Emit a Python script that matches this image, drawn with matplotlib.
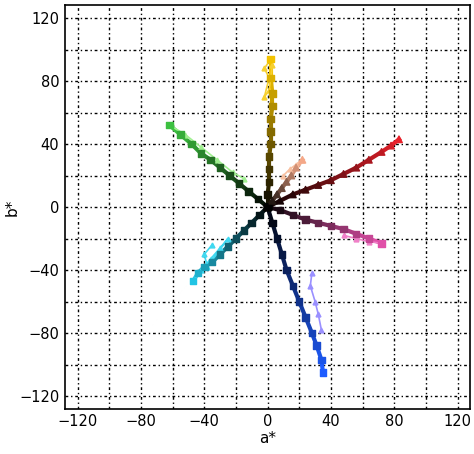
import matplotlib
matplotlib.use("Agg")
import matplotlib.pyplot as plt
import numpy as np
from matplotlib.colors import to_rgb

# main rays (dark near origin -> saturated at end)
yellow_a = [0, 0, 1, 1, 1, 2, 2, 2, 3, 3, 2, 2]
yellow_b = [0, 8, 16, 24, 32, 40, 48, 56, 64, 72, 82, 94]
red_a = [0, 8, 16, 24, 32, 40, 48, 56, 64, 72, 78, 83]
red_b = [0, 4, 8, 11, 14, 17, 21, 25, 30, 35, 39, 43]
peach_a = [0, 3, 6, 9, 12, 15, 18, 22]
peach_b = [0, 4, 8, 12, 16, 20, 25, 30]
pink_a = [0, 8, 16, 24, 32, 40, 48, 56, 64, 72]
pink_b = [0, -2, -5, -8, -10, -12, -14, -17, -20, -23]
blue_a = [0, 3, 6, 9, 12, 16, 20, 24, 28, 31, 34, 35]
blue_b = [0, -10, -20, -30, -40, -50, -60, -70, -80, -88, -97, -105]
cyan_a = [0, -5, -10, -15, -20, -25, -30, -35, -40, -44, -47]
cyan_b = [0, -5, -10, -15, -20, -25, -30, -35, -38, -42, -47]
green_a = [0, -6, -12, -18, -24, -30, -36, -42, -48, -55, -62]
green_b = [0, 5, 10, 15, 20, 25, 30, 34, 40, 46, 52]
# light return branches
yellow2_a = [2, -2, 1, -2, 1, 3]
yellow2_b = [94, 88, 82, 70, 74, 90]
pink2_a = [48, 56, 64, 72]
pink2_b = [-18, -20, -22, -23]
blue2_a = [28, 27, 30, 32, 34]
blue2_b = [-42, -50, -60, -68, -78]
cyan2_a = [-47, -42, -36, -30, -25, -38, -40, -35]
cyan2_b = [-47, -40, -33, -26, -20, -38, -30, -24]
green2_a = [-62, -52, -42, -32, -22, -15]
green2_b = [52, 46, 38, 30, 22, 18]
peach2_a = [10, 14, 18, 22]
peach2_b = [20, 24, 27, 30]

ticks = [-120, -80, -40, 0, 40, 80, 120]

fig = plt.figure(figsize=(4.74, 4.54), dpi=100)
ax = fig.add_axes([0.137, 0.10, 0.855, 0.888])

def ray(a, b, col, marker):
    c1 = np.array(to_rgb(col))
    n = len(a)
    cols = [tuple(c1 * (i / (n - 1)) ** 1.0) for i in range(n)]
    for i in range(n - 1):
        ax.plot(a[i:i + 2], b[i:i + 2], color=cols[i + 1], lw=3, zorder=3)
    ax.scatter(a, b, c=cols, marker=marker, s=22, zorder=4)

def branch(a, b, col):
    ax.plot(a, b, color=col, lw=1.2, marker='^', ms=3.5, zorder=3)

ray(yellow_a, yellow_b, '#f2c200', 's')
ray(red_a, red_b, '#e8202a', '^')
ray(pink_a, pink_b, '#e050a8', 's')
ray(blue_a, blue_b, '#1e5cff', 's')
ray(cyan_a, cyan_b, '#22c4e4', 's')
ray(green_a, green_b, '#3cc040', 's')
ray(peach_a, peach_b, '#f4a888', '^')
branch(yellow2_a, yellow2_b, '#f7d030')
branch(pink2_a, pink2_b, '#f080c8')
branch(blue2_a, blue2_b, '#9a90ff')
branch(cyan2_a, cyan2_b, '#40d8f0')
branch(green2_a, green2_b, '#a0f090')
branch(peach2_a, peach2_b, '#f8c0a0')

ax.set_xlim(-128, 128)
ax.set_ylim(-128, 128)
ax.set_xticks(ticks)
ax.set_yticks(ticks)
ax.set_xticks(np.arange(-120, 121, 20), minor=True)
ax.set_yticks(np.arange(-120, 121, 20), minor=True)
ax.grid(True, which='both', color='black', linestyle=(0, (2, 2, 1, 2)), lw=1.0, zorder=1)
ax.set_axisbelow(True)
ax.tick_params(labelsize=10.5, direction='in', which='both', length=0, pad=4)
ax.set_xlabel('a*', fontsize=11, labelpad=1)
ax.set_ylabel('b*', fontsize=11, labelpad=0)
for s in ax.spines.values():
    s.set_linewidth(1.2)
fig.savefig('out.png', dpi=100)
